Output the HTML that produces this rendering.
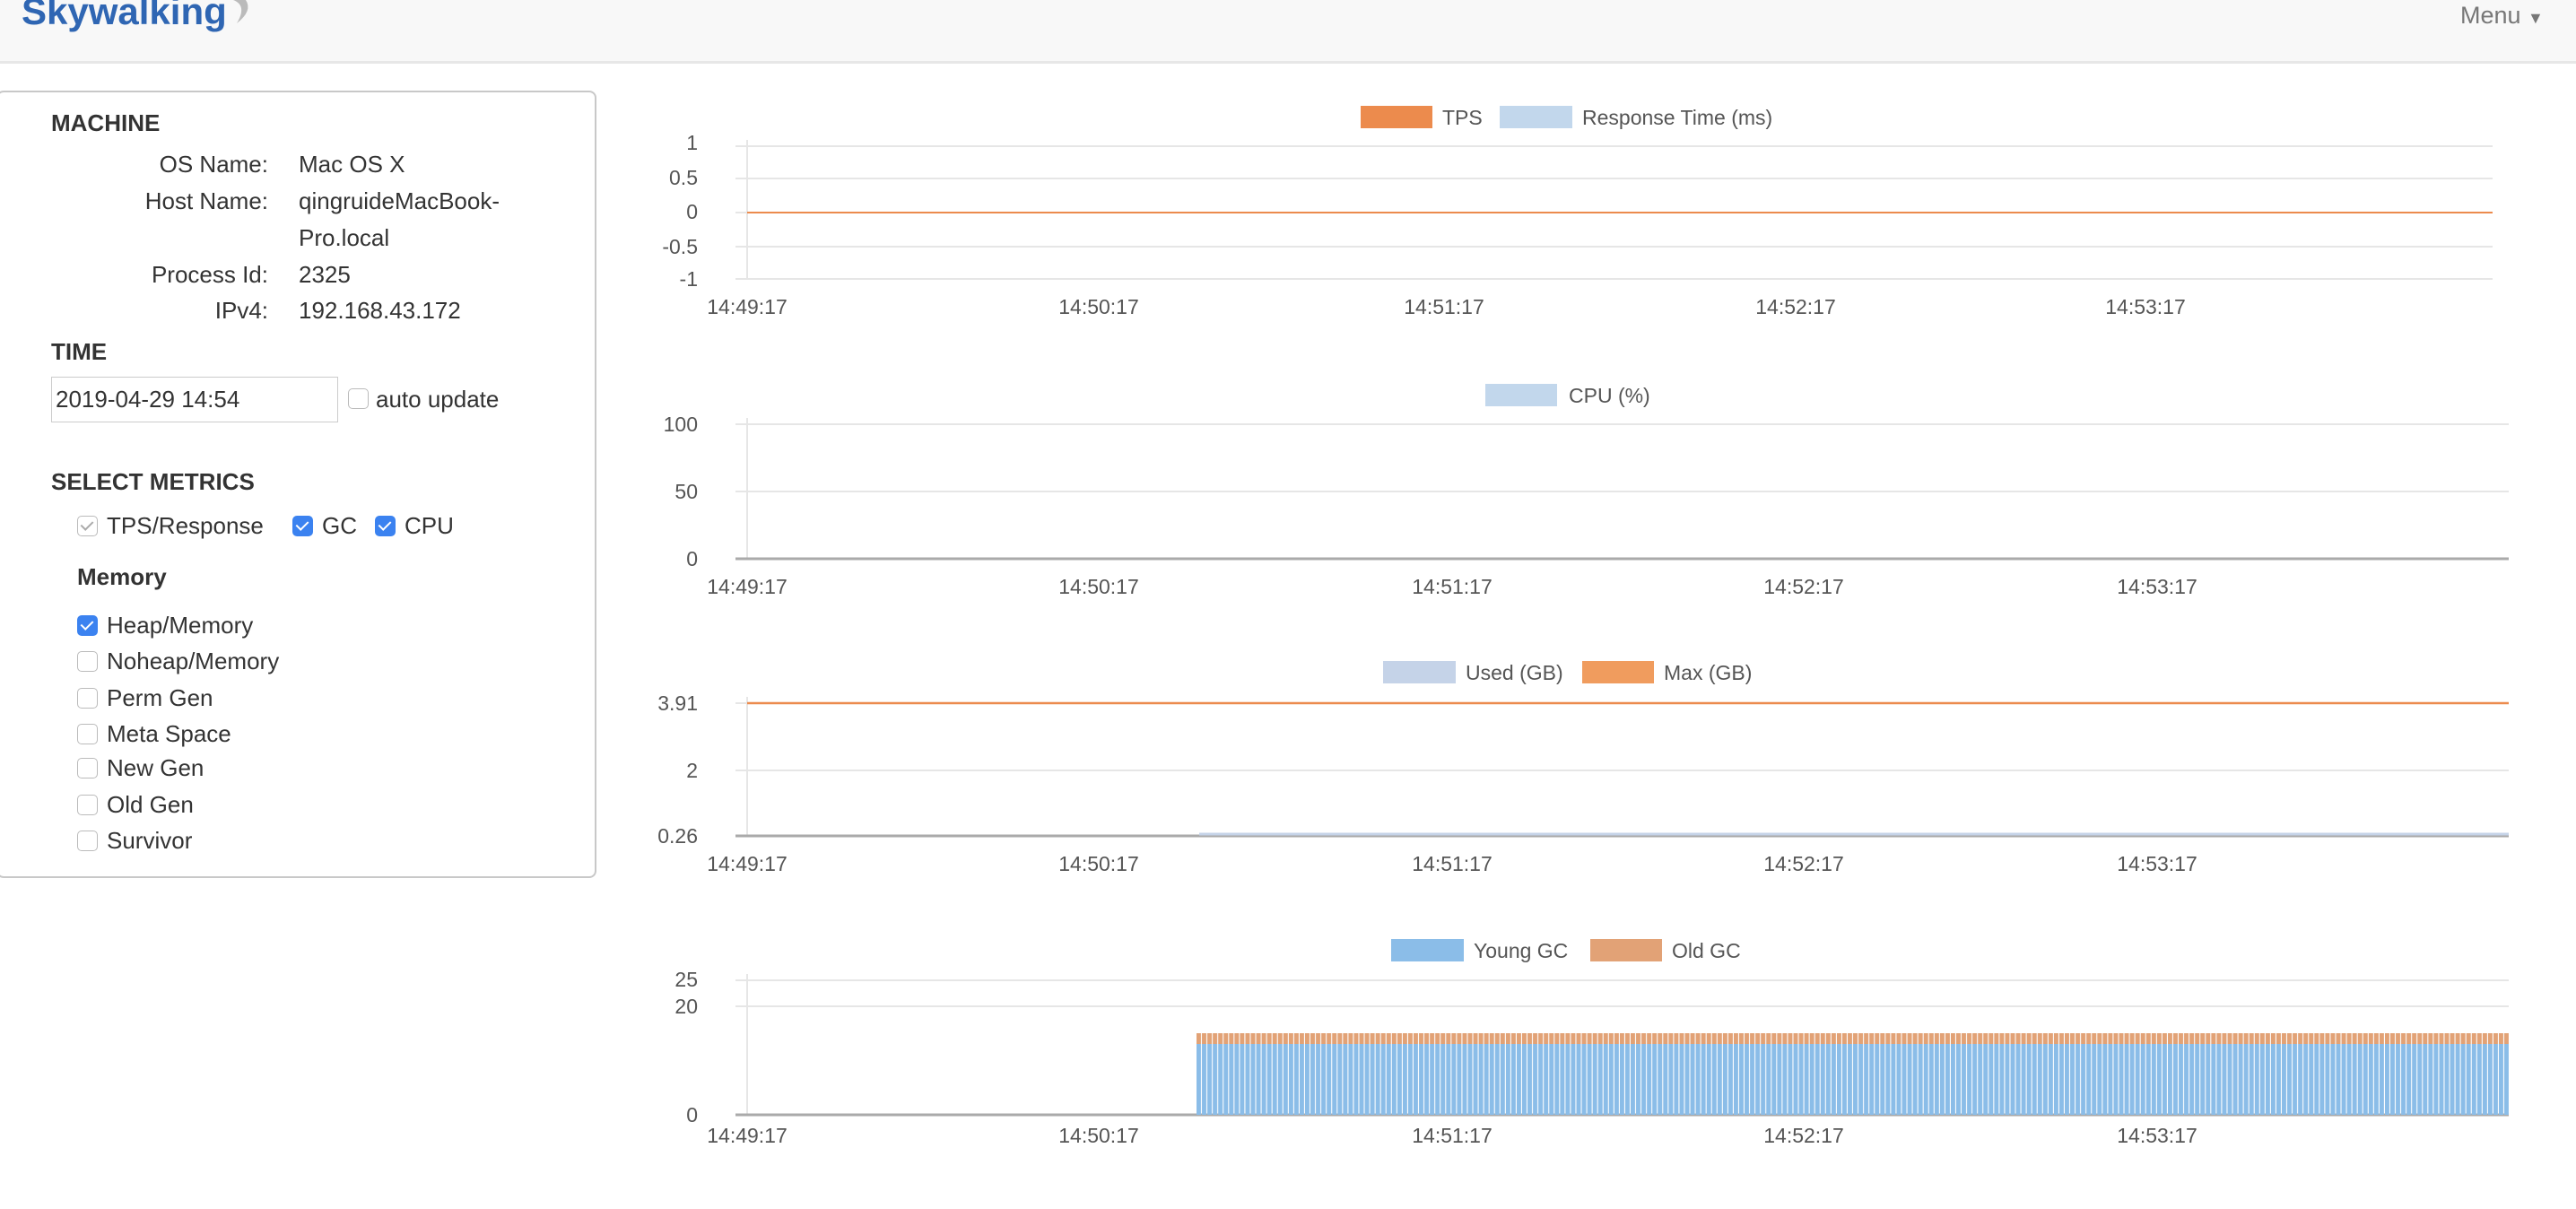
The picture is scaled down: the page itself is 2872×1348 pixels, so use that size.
<!DOCTYPE html>
<html><head><meta charset="utf-8"><style>
body{margin:0;width:2872px;height:1348px;background:#fff;font-family:"Liberation Sans",sans-serif;position:relative;overflow:hidden;color:#333}
.hdr{position:absolute;left:0;top:0;width:2872px;height:68px;background:#f8f8f8;border-bottom:3px solid #e7e7e7}
.logo{position:absolute;left:24px;top:-11px;font-size:42px;font-weight:bold;color:#2f66b3}
.menu{position:absolute;left:2743px;top:2px;font-size:27px;color:#777}
.panel{position:absolute;left:-4px;top:101px;width:665px;height:874px;border:2px solid #c8c8c8;border-radius:8px}
.t{position:absolute;font-size:26px;white-space:nowrap}
.b{font-weight:bold}
.r{text-align:right}
.cb{position:absolute;width:21px;height:21px;border:1px solid #bbb;border-radius:5px;background:#fff}
.cb.on{background:#3b82f0;border-color:#3b82f0}
.cb.on:after{content:"";position:absolute;left:6px;top:2px;width:6px;height:11px;border:solid #fff;border-width:0 2.5px 2.5px 0;transform:rotate(45deg)}
.cb.gr:after{content:"";position:absolute;left:6px;top:2px;width:6px;height:11px;border:solid #aaa;border-width:0 2px 2px 0;transform:rotate(45deg)}
.inp{position:absolute;left:57px;top:420px;width:318px;height:49px;border:1.5px solid #ccc}
</style></head><body>
<div class="hdr"><div class="logo">Skywalking</div>
<svg style="position:absolute;left:256px;top:0" width="30" height="30"><path d="M4 0 Q20 6 8 26 Q26 12 18 0 Z" fill="#bbb"/></svg>
<div class="menu">Menu <span style="font-size:18px">▼</span></div></div>
<div class="panel"></div>
<div class="t b" style="left:57px;top:122px">MACHINE</div>
<div class="t r" style="right:2573px;top:168px">OS Name:</div><div class="t" style="left:333px;top:168px">Mac OS X</div>
<div class="t r" style="right:2573px;top:209px">Host Name:</div><div class="t" style="left:333px;top:209px">qingruideMacBook-</div>
<div class="t" style="left:333px;top:250px">Pro.local</div>
<div class="t r" style="right:2573px;top:291px">Process Id:</div><div class="t" style="left:333px;top:291px">2325</div>
<div class="t r" style="right:2573px;top:331px">IPv4:</div><div class="t" style="left:333px;top:331px">192.168.43.172</div>
<div class="t b" style="left:57px;top:377px">TIME</div>
<div class="inp"></div><div class="t" style="left:62px;top:430px">2019-04-29 14:54</div>
<div class="cb" style="left:388px;top:433px"></div><div class="t" style="left:419px;top:430px">auto update</div>
<div class="t b" style="left:57px;top:522px">SELECT METRICS</div>
<div class="cb gr" style="left:86px;top:575px"></div><div class="t" style="left:119px;top:571px">TPS/Response</div>
<div class="cb on" style="left:326px;top:575px"></div><div class="t" style="left:359px;top:571px">GC</div>
<div class="cb on" style="left:418px;top:575px"></div><div class="t" style="left:451px;top:571px">CPU</div>
<div class="t b" style="left:86px;top:628px">Memory</div>
<div class="cb on" style="left:86px;top:686px"></div><div class="t" style="left:119px;top:682px">Heap/Memory</div>
<div class="cb" style="left:86px;top:726px"></div><div class="t" style="left:119px;top:722px">Noheap/Memory</div>
<div class="cb" style="left:86px;top:767px"></div><div class="t" style="left:119px;top:763px">Perm Gen</div>
<div class="cb" style="left:86px;top:807px"></div><div class="t" style="left:119px;top:803px">Meta Space</div>
<div class="cb" style="left:86px;top:845px"></div><div class="t" style="left:119px;top:841px">New Gen</div>
<div class="cb" style="left:86px;top:886px"></div><div class="t" style="left:119px;top:882px">Old Gen</div>
<div class="cb" style="left:86px;top:926px"></div><div class="t" style="left:119px;top:922px">Survivor</div>

<svg style="position:absolute;left:0;top:0" width="2872" height="1348" font-family="Liberation Sans, sans-serif" font-size="23" fill="#555">
<defs><pattern id="bp" x="1334" y="0" width="6.05" height="1348" patternUnits="userSpaceOnUse">
<rect x="0" y="1152" width="5" height="12" fill="#e2a276"/><rect x="0" y="1164" width="5" height="79" fill="#8bbde8"/></pattern></defs>
<g stroke="#e6e6e6" stroke-width="2">
<line x1="820" y1="163" x2="2779" y2="163"/><line x1="820" y1="199" x2="2779" y2="199"/><line x1="820" y1="237" x2="2779" y2="237"/><line x1="820" y1="275" x2="2779" y2="275"/><line x1="820" y1="311" x2="2779" y2="311"/>
<line x1="820" y1="473" x2="2797" y2="473"/><line x1="820" y1="548" x2="2797" y2="548"/>
<line x1="820" y1="784" x2="2797" y2="784"/><line x1="820" y1="859" x2="2797" y2="859"/>
<line x1="820" y1="1093" x2="2797" y2="1093"/><line x1="820" y1="1122" x2="2797" y2="1122"/>
<line x1="833" y1="156" x2="833" y2="311"/><line x1="833" y1="466" x2="833" y2="623"/><line x1="833" y1="777" x2="833" y2="932"/><line x1="833" y1="1086" x2="833" y2="1243"/>
</g>
<g stroke="#aaa" stroke-width="3"><line x1="820" y1="623" x2="2797" y2="623"/><line x1="820" y1="932" x2="2797" y2="932"/><line x1="820" y1="1243" x2="2797" y2="1243"/></g>
<line x1="833" y1="237" x2="2779" y2="237" stroke="#ec8b4d" stroke-width="2"/>
<line x1="833" y1="784" x2="2797" y2="784" stroke="#ec8b4d" stroke-width="2.5"/>
<line x1="1337" y1="930" x2="2797" y2="930" stroke="#c5d3e8" stroke-width="3"/>
<rect x="1334" y="1150" width="1463" height="93" fill="url(#bp)"/>
<g text-anchor="end">
<text x="778" y="167">1</text><text x="778" y="206">0.5</text><text x="778" y="244">0</text><text x="778" y="283">-0.5</text><text x="778" y="319">-1</text>
<text x="778" y="481">100</text><text x="778" y="556">50</text><text x="778" y="631">0</text>
<text x="778" y="792">3.91</text><text x="778" y="867">2</text><text x="778" y="940">0.26</text>
<text x="778" y="1100">25</text><text x="778" y="1130">20</text><text x="778" y="1251">0</text>
</g>
<g text-anchor="middle">
<text x="833" y="350">14:49:17</text><text x="1225" y="350">14:50:17</text><text x="1610" y="350">14:51:17</text><text x="2002" y="350">14:52:17</text><text x="2392" y="350">14:53:17</text>
<text x="833" y="662">14:49:17</text><text x="1225" y="662">14:50:17</text><text x="1619" y="662">14:51:17</text><text x="2011" y="662">14:52:17</text><text x="2405" y="662">14:53:17</text>
<text x="833" y="971">14:49:17</text><text x="1225" y="971">14:50:17</text><text x="1619" y="971">14:51:17</text><text x="2011" y="971">14:52:17</text><text x="2405" y="971">14:53:17</text>
<text x="833" y="1274">14:49:17</text><text x="1225" y="1274">14:50:17</text><text x="1619" y="1274">14:51:17</text><text x="2011" y="1274">14:52:17</text><text x="2405" y="1274">14:53:17</text>
</g>
<rect x="1517" y="118" width="80" height="25" fill="#ec8b4d"/><text x="1608" y="139">TPS</text>
<rect x="1672" y="118" width="81" height="25" fill="#c2d7ec"/><text x="1764" y="139">Response Time (ms)</text>
<rect x="1656" y="428" width="80" height="25" fill="#c2d7ec"/><text x="1749" y="449">CPU (%)</text>
<rect x="1542" y="737" width="81" height="25" fill="#c5d3e8"/><text x="1634" y="758">Used (GB)</text>
<rect x="1764" y="737" width="80" height="25" fill="#f09c5e"/><text x="1855" y="758">Max (GB)</text>
<rect x="1551" y="1047" width="81" height="25" fill="#8bbde8"/><text x="1643" y="1068">Young GC</text>
<rect x="1773" y="1047" width="80" height="25" fill="#e2a276"/><text x="1864" y="1068">Old GC</text>
</svg>
</body></html>
